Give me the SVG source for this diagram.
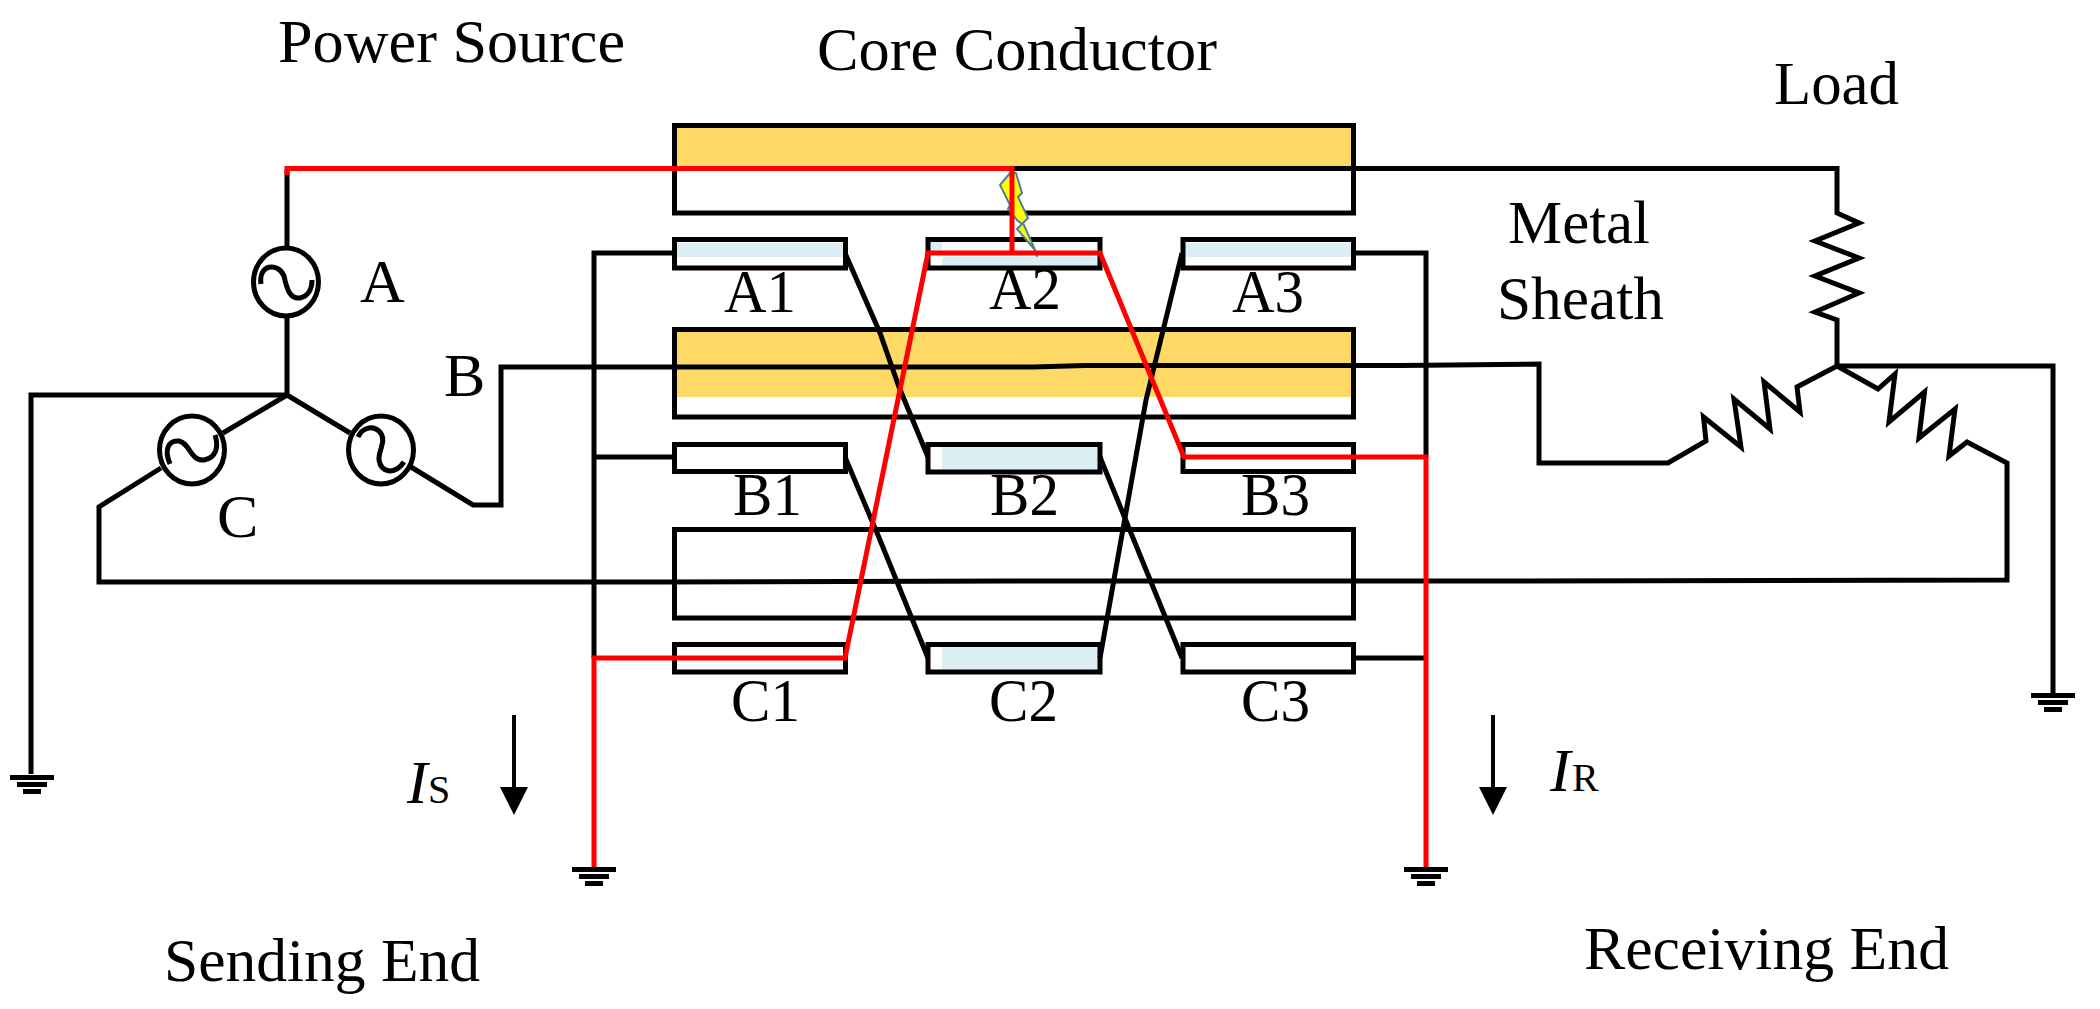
<svg xmlns="http://www.w3.org/2000/svg" width="2100" height="1009" viewBox="0 0 2100 1009">
<style>
text{font-family:"Liberation Serif","Times New Roman",serif;font-size:62px;fill:#000}
.sub{font-size:40px}
.it{font-style:italic}
.w{fill:none;stroke:#000;stroke-width:5;stroke-linejoin:miter}
.r{fill:none;stroke:#f00;stroke-width:5;stroke-linejoin:miter}
.box{fill:none;stroke:#000;stroke-width:5}
.y{fill:#FFD966}
.b{fill:#DAEEF3}
.src{fill:none;stroke:#000;stroke-width:5}
.g{fill:#000}
</style>
<defs>
<g id="gnd"><rect x="-22" y="0" width="44" height="5" class="g"/><rect x="-15" y="7" width="30" height="5" class="g"/><rect x="-9" y="14" width="18" height="5" class="g"/></g>
</defs>
<rect width="2100" height="1009" fill="#fff"/>

<g id="core-a"><rect class="y" x="675" y="126" width="678" height="41"/><rect class="box" x="674.500" y="125.500" width="679" height="87.500"/></g>
<g id="core-b"><rect class="y" x="675" y="330" width="678" height="67"/><rect class="box" x="674.500" y="329.500" width="679" height="87.500"/></g>
<g id="core-c"><rect class="box" x="674.500" y="529.500" width="679" height="88.500"/></g>

<g id="sheath-A1"><rect class="b" x="676" y="243" width="168" height="14"/><rect class="box" x="674.500" y="239.500" width="171" height="28.500"/></g>
<g id="sheath-A2"><rect class="b" x="930" y="242" width="12" height="11"/><rect class="b" x="942" y="257" width="156" height="9"/><rect class="box" x="928" y="239.500" width="172" height="28.500"/></g>
<g id="sheath-A3"><rect class="b" x="1184" y="243" width="168" height="14"/><rect class="box" x="1183" y="239.500" width="170.500" height="28.500"/></g>
<g id="sheath-B1"><rect class="box" x="674.500" y="444.500" width="171" height="27"/></g>
<g id="sheath-B2"><rect class="b" x="942" y="446" width="156" height="24"/><rect class="box" x="928" y="444.500" width="172" height="27.500"/></g>
<g id="sheath-B3"><rect class="box" x="1183" y="444.500" width="170.500" height="27"/></g>
<g id="sheath-C1"><rect class="box" x="674.500" y="644.500" width="171" height="27.500"/></g>
<g id="sheath-C2"><rect class="b" x="942" y="646" width="156" height="24"/><rect class="box" x="928" y="644.500" width="172" height="27.500"/></g>
<g id="sheath-C3"><rect class="box" x="1183" y="644.500" width="170.500" height="27.500"/></g>

<g id="connectors">
<path class="w" d="M1012 168.500H1837V213L1859 223L1815 241L1859 258L1815 276L1859 293L1815 312L1837 320V366"/>
<path class="w" d="M287 170V248M287 316V395"/>
<path class="w" d="M287 395H31V774"/>
<path class="w" d="M287 395L223 433M287 395L350 433"/>
<path class="w" d="M161 468L99 507V582H660L1010 581H1500L2007 580V463L1967 442L1949 456L1955 409L1919 438L1924.500 392L1889 422L1895 374L1878 389L1837 366"/>
<path class="w" d="M411 467L473 505H501V367H1033L1085 365.500H1400L1539 364V463H1668L1706 441L1703.500 417L1741 447L1734 399L1770 429L1764 382L1800 412L1797 387L1837 366H2053V696"/>
<path class="w" d="M674 253H594V658M594 457H674"/>
<path class="w" d="M1353 253H1426V457M1353 658H1426"/>
<path class="w" d="M845 253L880 333L899 387L928 457"/>
<path class="w" d="M845 457L880 540L928 658"/>
<path class="w" d="M1100 457L1142 560L1182 658"/>
<path class="w" d="M1100 658L1146 400L1182 253"/>
<polygon id="fault" points="1011,172 1000,185 1010,205 1008,209 1010,211 1017,220 1022,224 1017,229 1035,250 1037,257 1036,252 1023,223 1028,218 1018,197 1022,193 1016,173" fill="#ff0" stroke="#4A8098" stroke-width="2"/>
<path class="r" d="M287 175V168.500H1012V253"/>
<path class="r" d="M594 872V658H845L928 253H1100L1184 457H1426V872"/>
<path d="M514 715V790" fill="none" stroke="#000" stroke-width="4"/>
<polygon points="500,787 528,787 514,815" class="g"/>
<path d="M1493 715V790" fill="none" stroke="#000" stroke-width="4"/>
<polygon points="1479,787 1507,787 1493,815" class="g"/>
</g>

<g id="source-A"><ellipse class="src" cx="286" cy="282" rx="32.500" ry="34"/><path class="src" d="M261 284C258 264 278 262 284 276C287 290 290 299 300 298C309 296 312 288 312 280"/></g>
<g id="source-C"><ellipse class="src" cx="192" cy="450" rx="32.500" ry="34"/><path class="src" d="M170 464C164 450 168 440 179 441C190 443 190 461 204 460C216 458 219 447 215 435"/></g>
<g id="source-B"><ellipse class="src" cx="381" cy="450" rx="32.500" ry="34"/><path class="src" d="M358 437C362 428 372 425 379 431C388 440 378 450 379 460C381 472 394 476 404 462"/></g>

<use href="#gnd" x="32" y="775"/>
<use href="#gnd" x="594" y="867"/>
<use href="#gnd" x="1426" y="867"/>
<use href="#gnd" x="2053" y="693"/>

<text x="278" y="62" textLength="347" lengthAdjust="spacingAndGlyphs">Power Source</text>
<text x="817" y="70" textLength="400" lengthAdjust="spacingAndGlyphs">Core Conductor</text>
<text x="1774" y="104" textLength="125" lengthAdjust="spacingAndGlyphs">Load</text>
<text x="1508" y="243" textLength="142" lengthAdjust="spacingAndGlyphs">Metal</text>
<text x="1497" y="319" textLength="167" lengthAdjust="spacingAndGlyphs">Sheath</text>
<text x="360" y="302">A</text>
<text x="444" y="396">B</text>
<text x="217" y="537">C</text>
<text x="724" y="312" textLength="72" lengthAdjust="spacingAndGlyphs">A1</text>
<text x="989" y="309" textLength="72" lengthAdjust="spacingAndGlyphs">A2</text>
<text x="1232" y="312" textLength="72" lengthAdjust="spacingAndGlyphs">A3</text>
<text x="733" y="515" textLength="69" lengthAdjust="spacingAndGlyphs">B1</text>
<text x="990" y="515" textLength="69" lengthAdjust="spacingAndGlyphs">B2</text>
<text x="1241" y="515" textLength="69" lengthAdjust="spacingAndGlyphs">B3</text>
<text x="731" y="721" textLength="69" lengthAdjust="spacingAndGlyphs">C1</text>
<text x="989" y="721" textLength="69" lengthAdjust="spacingAndGlyphs">C2</text>
<text x="1241" y="721" textLength="69" lengthAdjust="spacingAndGlyphs">C3</text>
<text x="407" y="803" class="it">I</text><text x="428" y="803" class="sub">S</text>
<text x="1550" y="791" class="it">I</text><text x="1572" y="791" class="sub">R</text>
<text x="164" y="981" textLength="316" lengthAdjust="spacingAndGlyphs">Sending End</text>
<text x="1584" y="969" textLength="365" lengthAdjust="spacingAndGlyphs">Receiving End</text>
</svg>
